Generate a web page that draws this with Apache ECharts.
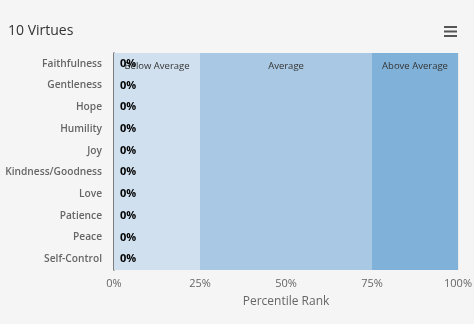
<!DOCTYPE html>
<html><head><meta charset="utf-8">
<script src="https://cdn.jsdelivr.net/npm/echarts@6/dist/echarts.min.js"></script>
<style>html,body{margin:0;padding:0;background:#f5f5f5}#c{width:474px;height:324px}</style>
</head><body><div id="c"></div>
<script>
const categories = ['Faithfulness','Gentleness','Hope','Humility','Joy','Kindness/Goodness','Love','Patience','Peace','Self-Control'];
const values = [0,0,0,0,0,0,0,0,0,0];
const xTicks = [0,25,50,75,100];
const bands = [
  {name:'Below Average', from:0, to:25, color:'#d0e0ee'},
  {name:'Average', from:25, to:75, color:'#a9c8e3'},
  {name:'Above Average', from:75, to:100, color:'#80b1d9'}
];
const FONT = '"Open Sans", "Noto Sans", sans-serif';
const chart = echarts.init(document.getElementById('c'), null, {renderer:'canvas'});
chart.setOption({
  backgroundColor:'#f5f5f5',
  animation:false,
  title:{text:'10 Virtues', left:3, top:19, textStyle:{fontFamily:FONT, fontSize:14, fontWeight:'normal', color:'#333'}},
  graphic:[
    {type:'rect', left:444, top:26, shape:{width:13,height:2}, style:{fill:'#555'}},
    {type:'rect', left:444, top:30.5, shape:{width:13,height:2}, style:{fill:'#555'}},
    {type:'rect', left:444, top:35, shape:{width:13,height:2}, style:{fill:'#555'}}
  ],
  grid:{left:114, right:16, top:53, bottom:54, containLabel:false, outerBoundsMode:'none'},
  xAxis:{type:'value', min:xTicks[0], max:xTicks[xTicks.length-1], interval:25,
    axisLine:{show:false}, axisTick:{show:false},
    splitLine:{show:true, lineStyle:{color:'rgba(0,0,0,0.04)'}},
    axisLabel:{formatter:'{value}%', color:'#666', fontFamily:FONT, fontSize:11, margin:8},
    name:'Percentile Rank', nameLocation:'middle', nameGap:26,
    nameTextStyle:{color:'#666', fontFamily:FONT, fontSize:12}},
  yAxis:{type:'category', data:categories, inverse:true,
    axisLine:{show:true, lineStyle:{color:'#555', width:1.5}}, axisTick:{show:false},
    axisLabel:{color:'#666', fontFamily:FONT, fontSize:10.2, fontWeight:600, margin:12}},
  series:[{
    type:'bar', data:values, barWidth:14, itemStyle:{color:'#7cb5ec'},
    label:{show:true, position:'right', distance:6, formatter:p=>p.value+'%', color:'#000', fontFamily:FONT, fontSize:11, fontWeight:'bold'},
    z:5,
    markArea:{silent:true, z:1,
      label:{position:'insideTop', distance:8, color:'#333', fontFamily:FONT, fontSize:9.5},
      data: bands.map(b=>[{name:b.name, xAxis:b.from, itemStyle:{color:b.color}},{xAxis:b.to}])
    }
  }]
});
</script></body></html>
